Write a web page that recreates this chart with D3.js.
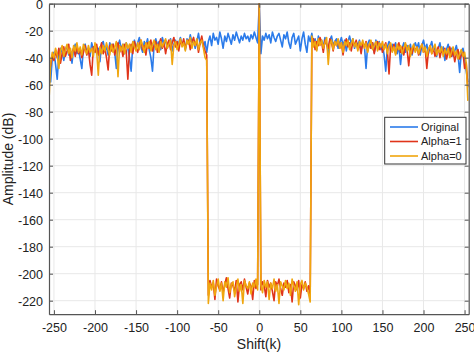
<!DOCTYPE html>
<html><head><meta charset="utf-8">
<script src="https://cdn.jsdelivr.net/npm/d3@7"></script>
<style>body{margin:0;background:#fff}svg{display:block}text{font-family:"Liberation Sans",Arial,sans-serif;fill:#222}</style>
</head><body><svg id="c" width="474" height="352"></svg>
<script>
// shift k = -256, -254, ..., 254 (16 values per row = 32 shifts)
const shifts = d3.range(-256, 256, 2);
const xTicks = [-250,-200,-150,-100,-50,0,50,100,150,200,250];
const yTicks = [0,-20,-40,-60,-80,-100,-120,-140,-160,-180,-200,-220];
const seriesNames = ["Original","Alpha=1","Alpha=0"];
const seriesColors = ["#2b7bea","#e0341a","#f0a60e"];

const original = [
-48,-58,-40,-36,-45,-56,-38,-33,-36,-42,-34,-31,-38,-35,-44,-33,
-30,-37,-34,-41,-48,-32,-30,-36,-33,-39,-29,-34,-31,-37,-33,-43,
-30,-28,-35,-32,-38,-29,-33,-30,-36,-48,-31,-27,-34,-30,-37,-29,
-33,-40,-50,-31,-27,-33,-29,-25,-32,-36,-28,-31,-26,-34,-40,-50,
-30,-26,-31,-28,-34,-25,-30,-27,-33,-29,-26,-35,-30,-27,-32,-29,
-25,-31,-28,-34,-26,-30,-23,-29,-27,-33,-28,-22,-30,-26,-32,-28,
-36,-28,-24,-31,-22,-27,-25,-30,-21,-26,-33,-24,-28,-22,-26,-30,
-23,-27,-21,-25,-29,-24,-27,-22,-26,-24,-28,-23,-26,-21,-25,-29,
0,-37,-24,-27,-22,-26,-23,-29,-21,-25,-28,-24,-22,-27,-32,-23,
-26,-21,-29,-33,-25,-22,-30,-27,-24,-35,-26,-21,-30,-36,-24,-28,
-22,-30,-26,-34,-24,-29,-27,-32,-25,-30,-36,-27,-24,-31,-28,-26,
-33,-29,-25,-31,-27,-35,-28,-24,-30,-26,-33,-28,-31,-27,-34,-29,
-31,-48,-30,-27,-33,-29,-36,-27,-31,-28,-34,-30,-38,-50,-32,-28,
-35,-30,-33,-29,-37,-31,-45,-33,-29,-36,-31,-34,-30,-38,-32,-29,
-33,-29,-38,-31,-27,-34,-30,-37,-32,-28,-35,-31,-39,-33,-29,-36,
-32,-42,-34,-30,-37,-33,-39,-35,-31,-38,-51,-36,-33,-40,-50,-58];

const alpha1 = [
-50,-46,-38,-42,-35,-40,-33,-44,-37,-32,-39,-35,-30,-42,-36,-33,
-39,-31,-37,-34,-40,-36,-31,-38,-34,-45,-53,-32,-36,-30,-38,-34,
-29,-37,-33,-40,-49,-31,-35,-30,-38,-33,-29,-36,-32,-39,-30,-35,
-56,-34,-30,-37,-28,-33,-36,-30,-27,-34,-31,-38,-29,-33,-27,-35,
-31,-28,-36,-30,-26,-33,-29,-37,-30,-27,-34,-29,-25,-32,-28,-35,
-27,-31,-26,-33,-29,-27,-34,-28,-25,-31,-27,-36,-29,-24,-31,-35,
-38,-216,-205,-210,-207,-219,-204,-209,-212,-206,-214,-208,-203,-211,-218,-207,
-209,-213,-205,-221,-208,-206,-212,-204,-210,-215,-207,-209,-219,-205,-211,-208,
0,-212,-206,-209,-217,-205,-210,-207,-213,-220,-206,-209,-204,-211,-216,-207,
-210,-205,-214,-208,-221,-206,-209,-212,-205,-218,-208,-211,-206,-213,-209,-217,
-30,-26,-34,-28,-31,-25,-29,-36,-27,-30,-33,-26,-29,-35,-28,-31,
-27,-33,-29,-38,-30,-26,-32,-29,-35,-28,-31,-27,-34,-30,-37,-29,
-32,-28,-35,-30,-33,-29,-37,-31,-28,-34,-30,-36,-32,-29,-35,-52,
-31,-35,-30,-37,-33,-29,-36,-32,-38,-30,-34,-46,-33,-37,-31,-35,
-32,-38,-34,-30,-36,-33,-48,-35,-31,-37,-33,-39,-35,-32,-40,-34,
-37,-33,-41,-36,-32,-39,-35,-43,-37,-34,-41,-38,-36,-48,-44,-62];

const alpha0 = [
-72,-44,-36,-40,-33,-38,-48,-35,-31,-39,-34,-30,-37,-33,-40,-31,
-35,-29,-36,-32,-38,-30,-34,-37,-31,-36,-33,-39,-29,-35,-53,-32,
-37,-31,-35,-29,-34,-38,-30,-36,-32,-28,-54,-31,-35,-30,-37,-29,
-33,-30,-36,-28,-32,-35,-29,-34,-27,-31,-36,-29,-33,-28,-35,-30,
-27,-34,-30,-36,-28,-32,-29,-26,-33,-30,-27,-45,-31,-28,-34,-30,
-26,-32,-29,-35,-27,-30,-25,-33,-28,-31,-26,-34,-29,-27,-33,-40,
-42,-222,-207,-212,-205,-216,-209,-204,-213,-207,-220,-206,-210,-203,-214,-208,
-206,-217,-210,-204,-213,-208,-222,-205,-209,-211,-206,-215,-207,-210,-204,-212,
0,-208,-214,-205,-210,-206,-219,-207,-211,-204,-213,-208,-222,-206,-209,-212,
-205,-211,-207,-216,-204,-209,-213,-206,-223,-208,-205,-212,-207,-210,-215,-221,
-24,-32,-28,-35,-26,-31,-27,-33,-29,-25,-45,-30,-27,-34,-28,-31,
-26,-33,-29,-36,-28,-31,-27,-34,-30,-26,-32,-29,-35,-28,-31,-27,
-33,-29,-36,-30,-27,-34,-31,-28,-35,-29,-32,-28,-34,-30,-37,-31,
-29,-36,-32,-38,-30,-34,-31,-37,-33,-29,-35,-31,-39,-33,-30,-36,
-32,-37,-33,-30,-36,-32,-39,-34,-31,-37,-33,-30,-38,-34,-36,-32,
-39,-34,-37,-33,-40,-36,-32,-38,-35,-41,-37,-34,-39,-36,-44,-72];

const seriesValues = [original, alpha1, alpha0];

const svg = d3.select("#c");
const L = 49, R = 468.7, T = 3.7, B = 314.2;
const x = d3.scaleLinear().domain([-256, 255]).range([L, R]);
const y = d3.scaleLinear().domain([-230, 0]).range([B, T]);
const fmt = d => String(d);

// grid
const g = svg.append("g");
g.selectAll(".gx").data(xTicks).enter().append("line")
  .attr("x1", d => x(d)).attr("x2", d => x(d)).attr("y1", T).attr("y2", B)
  .attr("stroke", "#e8e8e8").attr("stroke-width", 1);
g.selectAll(".gy").data(yTicks).enter().append("line")
  .attr("y1", d => y(d)).attr("y2", d => y(d)).attr("x1", L).attr("x2", R)
  .attr("stroke", "#e8e8e8").attr("stroke-width", 1);

// data
svg.append("clipPath").attr("id", "clip").append("rect")
  .attr("x", L).attr("y", T - 1).attr("width", R - L).attr("height", B - T + 1);
const line = d3.line().x((d, i) => x(shifts[i])).y(d => y(d));
const dl = svg.append("g").attr("clip-path", "url(#clip)");
seriesValues.forEach((vals, si) => {
  dl.append("path").datum(vals).attr("d", line)
    .attr("fill", "none").attr("stroke", seriesColors[si])
    .attr("stroke-width", 1.6).attr("stroke-linejoin", "round");
});

// axes (box with inward ticks)
const axColor = "#555";
const xb = svg.append("g").attr("transform", `translate(0,${B})`)
  .call(d3.axisBottom(x).tickValues(xTicks).tickFormat(fmt).tickSizeInner(-4).tickSizeOuter(0).tickPadding(9));
const xt = svg.append("g").attr("transform", `translate(0,${T})`)
  .call(d3.axisTop(x).tickValues(xTicks).tickSizeInner(-4).tickSizeOuter(0).tickFormat(""));
const yl = svg.append("g").attr("transform", `translate(${L},0)`)
  .call(d3.axisLeft(y).tickValues(yTicks).tickFormat(fmt).tickSizeInner(-4).tickSizeOuter(0).tickPadding(6));
const yr = svg.append("g").attr("transform", `translate(${R},0)`)
  .call(d3.axisRight(y).tickValues(yTicks).tickSizeInner(-4).tickSizeOuter(0).tickFormat(""));
[xb, xt, yl, yr].forEach(a => {
  a.select(".domain").attr("stroke", axColor).attr("stroke-width", 1.2);
  a.selectAll(".tick line").attr("stroke", axColor);
  a.selectAll("text").style("font-size", "12.5px").attr("fill", "#222")
    .style("font-family", '"Liberation Sans",Arial,sans-serif');
});
yl.selectAll("text").attr("dy", "0.36em");

// labels
svg.append("text").attr("x", 259).attr("y", 349).attr("text-anchor", "middle")
  .style("font-size", "14px").text("Shift(k)");
svg.append("text").attr("transform", `translate(13,159) rotate(-90)`)
  .attr("text-anchor", "middle").style("font-size", "14px").text("Amplitude (dB)");

// legend
const lg = svg.append("g");
lg.append("rect").attr("x", 384.7).attr("y", 117.3).attr("width", 81.3).attr("height", 46.7)
  .attr("fill", "#fff").attr("stroke", "#333").attr("stroke-width", 1);
seriesNames.forEach((n, i) => {
  const yy = 127 + i * 14.5;
  lg.append("line").attr("x1", 390).attr("x2", 418).attr("y1", yy).attr("y2", yy)
    .attr("stroke", seriesColors[i]).attr("stroke-width", 1.6);
  lg.append("text").attr("x", 421).attr("y", yy).attr("dy", "0.36em")
    .style("font-size", "11px").text(n);
});
</script></body></html>
